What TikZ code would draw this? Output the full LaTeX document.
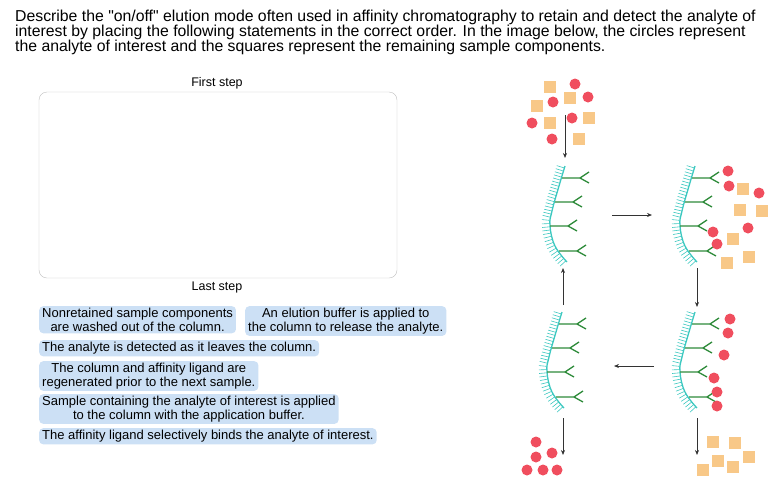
\documentclass[tikz,border=0pt]{standalone}
\usepackage{fontspec}
\setmainfont{Liberation Sans}[Ligatures=TeXOff]
\usetikzlibrary{decorations.markings,arrows.meta}
\definecolor{cyanc}{HTML}{3CC8C0}
\definecolor{ligc}{HTML}{2E8B3A}
\definecolor{redc}{HTML}{F04E5E}
\definecolor{orac}{HTML}{F8C888}
\definecolor{boxc}{HTML}{CCE0F5}
\tikzset{
 ball/.style={fill=redc,draw=none},
 sq/.style={fill=orac,draw=none},
 arr/.style={-{Stealth[length=5pt,width=4pt]},line width=0.7pt,draw=black!80},
 card/.style={fill=boxc,rounded corners=4pt,draw=none,inner xsep=3pt,inner ysep=2pt,font=\fontsize{13}{13.5}\selectfont,align=center,anchor=north west},
 lig/.style={draw=ligc,line width=1.3pt}
}
\newcommand{\mycol}[2]{%
 \begin{scope}[shift={(#1,#2)}]
 \draw[cyanc,line width=1.3pt,postaction={decorate},decoration={markings,mark=between positions 0.02 and 0.99 step 3.2pt with {\draw[cyanc,line width=0.6pt] (0,0)--(0,-8pt);}}]
  plot[smooth,tension=0.7] coordinates {(0,0) (-6,20) (-13,45) (-15,60) (-10,80) (2,96)};
 \foreach \yy/\xx in {12/-3,36/-10,60/-15,85/-6}{
  \draw[lig] (\xx,\yy)--(\xx+18,\yy) --++(9,-6);
  \draw[lig] (\xx+18,\yy)--++(9,5);}
 \end{scope}}
\begin{document}
\begin{tikzpicture}[x=1pt,y=-1pt]
\useasboundingbox (0,0) rectangle (782,488);
\node[anchor=north west,align=left,inner sep=0,font=\fontsize{15.8}{15}\selectfont] (title) at (15,10)
 {Describe the "on/off" elution mode often used in affinity chromatography to retain and detect the analyte of\\
 interest by placing the following statements in the correct order. In the image below, the circles represent\\
 the analyte of interest and the squares represent the remaining sample components.};
\node[font=\fontsize{12.5}{12}\selectfont] (first) at (217,83) {First step};
\draw[black!25,rounded corners=8pt] (39,92) rectangle (397,278);
\node[font=\fontsize{12.5}{12}\selectfont] (last) at (217,287) {Last step};
\node[card] (c1) at (39,306) {Nonretained sample components\\are washed out of the column.};
\node[card] (c2) at (245,306) {An elution buffer is applied to\\the column to release the analyte.};
\node[card] (c3) at (39,340) {The analyte is detected as it leaves the column.};
\node[card] (c4) at (39,361) {The column and affinity ligand are\\regenerated prior to the next sample.};
\node[card] (c5) at (39,394) {Sample containing the analyte of interest is applied\\to the column with the application buffer.};
\node[card] (c6) at (39,428) {The affinity ligand selectively binds the analyte of interest.};
% columns
\mycol{565}{166}
\mycol{695}{166}
\mycol{562}{312}
\mycol{695}{312}
% particles
\foreach \x/\y in {575/84,588/97,553/102,572/118,532/123,552/139,
 728/171,729/186,759/193,748/228,713/232,717/244,
 730/319,728/333,724/355,714/378,717/392,717/406,
 536/442,536/457,552/453,527/470,543/470,557/470}
 \fill[ball] (\x,\y) circle (5.5);
\foreach \x/\y in {550/87,570/98,537/106,550/123,589/118,579/139,
 743/189,740/210,762/211,733/239,749/257,727/263,
 713/442,735/443,749/457,718/461,733/467,703/470}
 \fill[sq] (\x-6,\y-6) rectangle (\x+6,\y+6);
% arrows
\coordinate (a1) at (565,115); \coordinate (a2) at (565,158);
\coordinate (b1) at (612,215); \coordinate (b2) at (652,215);
\coordinate (c1a) at (697,268); \coordinate (c2a) at (697,307);
\coordinate (d1) at (654,366); \coordinate (d2) at (614,366);
\coordinate (e1) at (563,305); \coordinate (e2) at (563,268);
\coordinate (f1) at (563,418); \coordinate (f2) at (563,455);
\coordinate (g1) at (697,418); \coordinate (g2) at (697,455);
\draw[arr] (a1)--(a2); \draw[arr] (b1)--(b2); \draw[arr] (c1a)--(c2a);
\draw[arr] (d1)--(d2); \draw[arr] (e1)--(e2); \draw[arr] (f1)--(f2); \draw[arr] (g1)--(g2);
\end{tikzpicture}
\end{document}
